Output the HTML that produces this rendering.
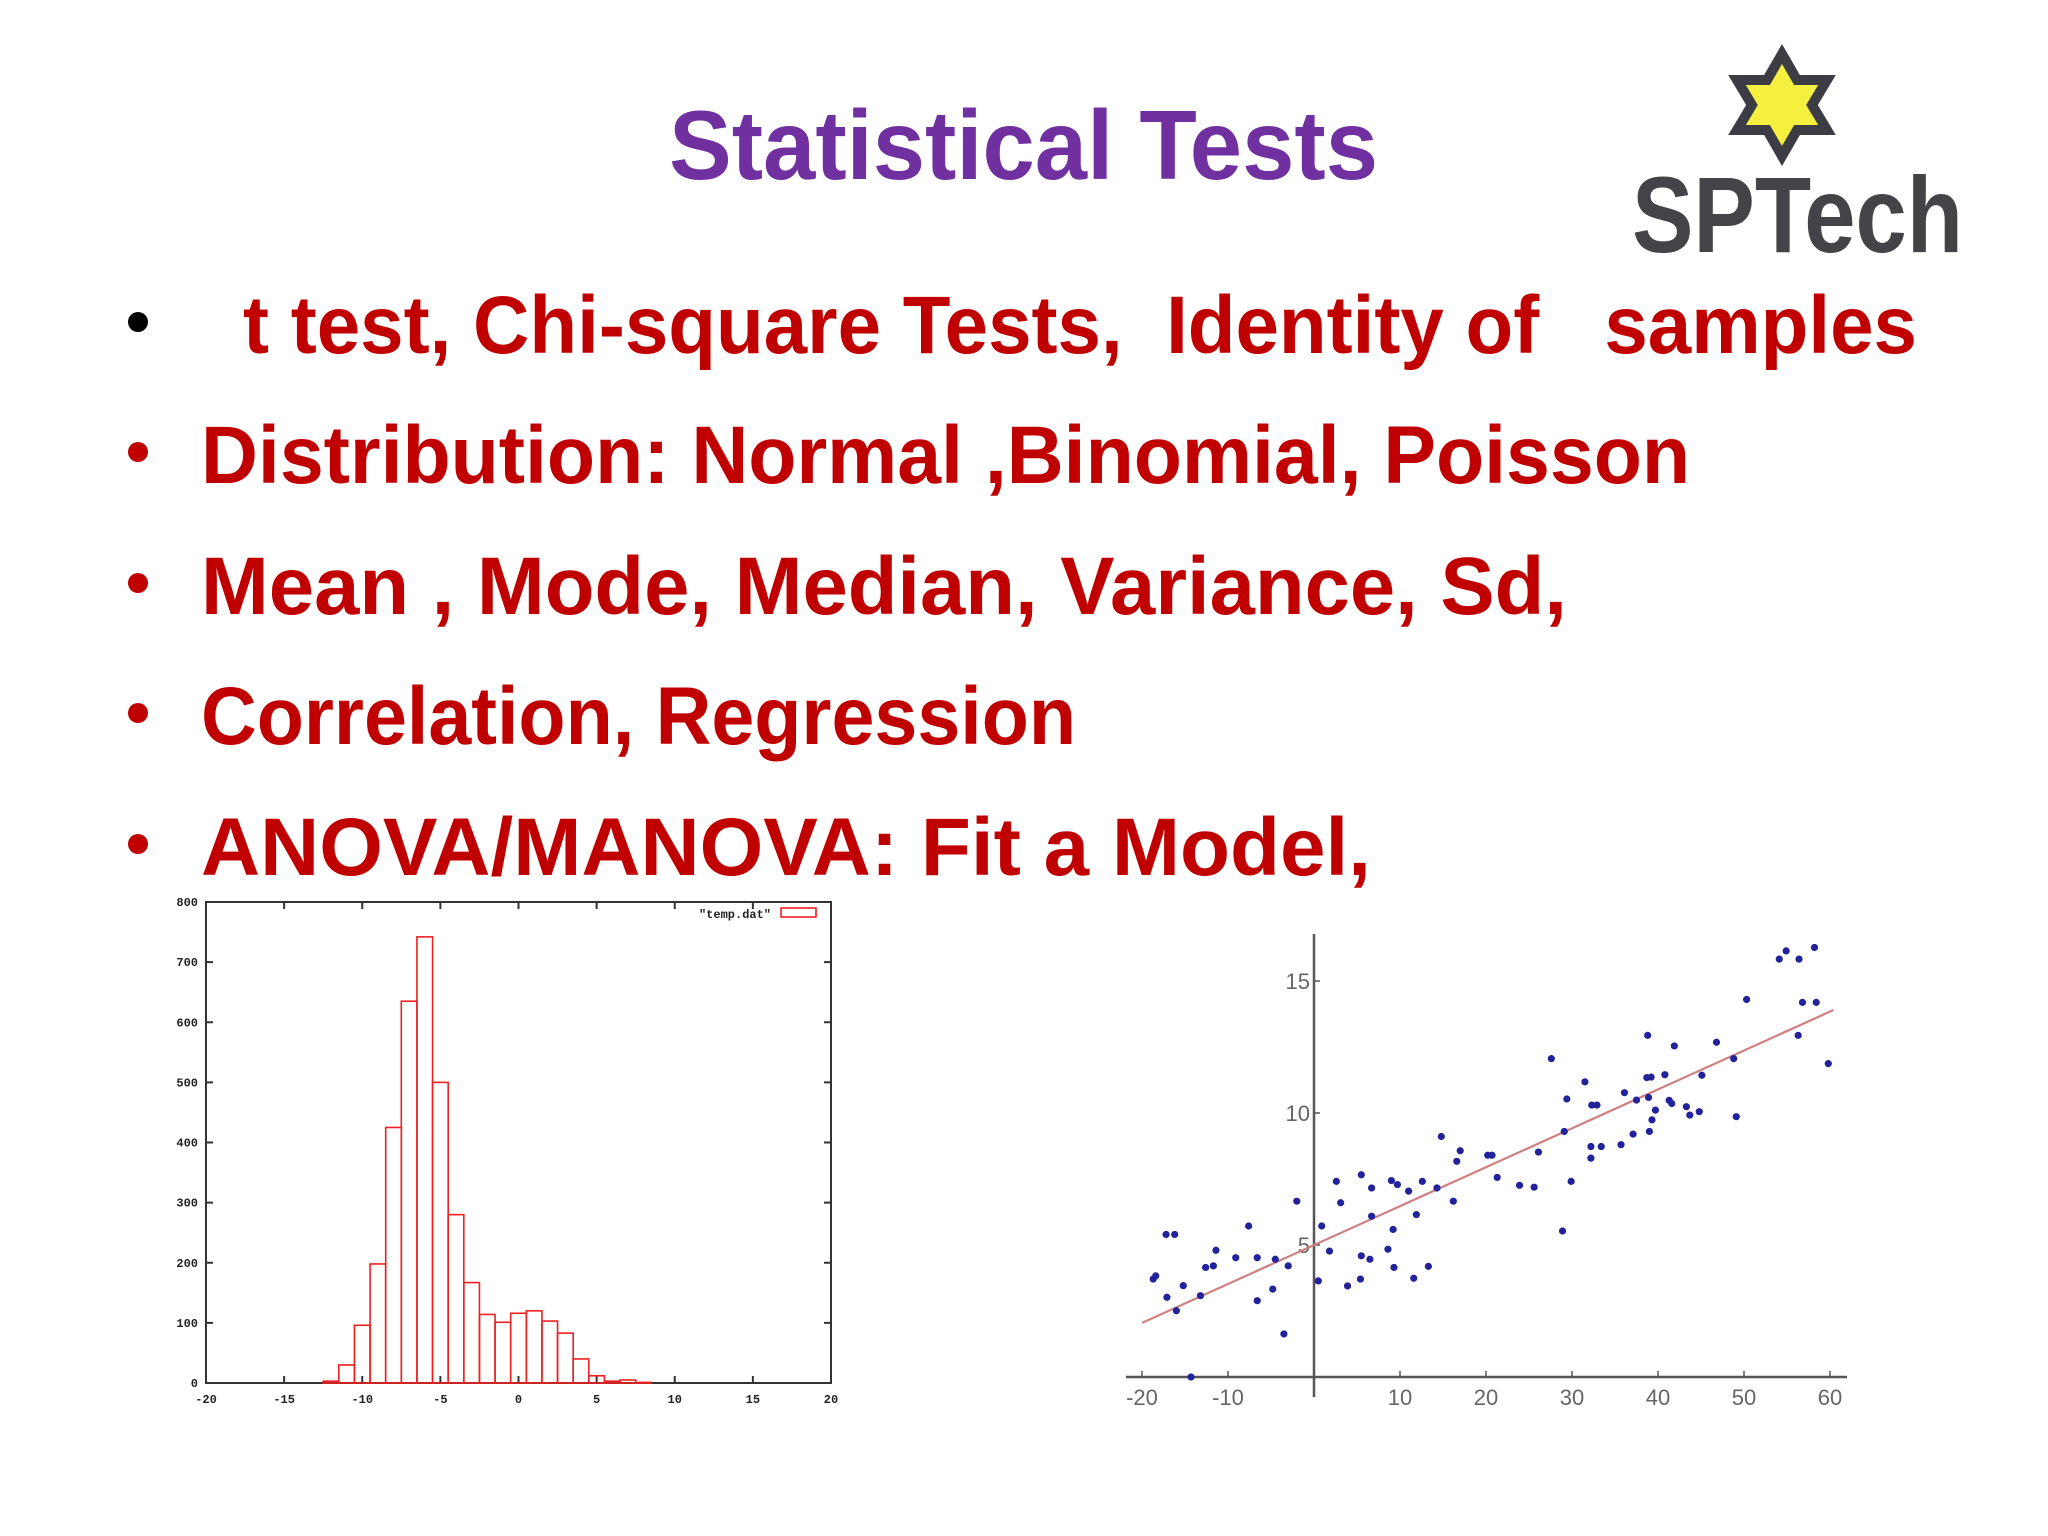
<!DOCTYPE html>
<html><head><meta charset="utf-8"><style>
html,body{margin:0;padding:0;background:#fff;}
svg{display:block;}
</style></head><body>
<svg id="slide" width="2048" height="1536" viewBox="0 0 2048 1536" xmlns="http://www.w3.org/2000/svg">
<rect x="0" y="0" width="2048" height="1536" fill="#ffffff"/>
<text x="669" y="179" textLength="709" lengthAdjust="spacingAndGlyphs" font-family="Liberation Sans, sans-serif" font-weight="bold" font-size="98" fill="#7030a0">Statistical Tests</text>
<g>
<polygon points="1782,54 1797,80 1827,80 1812,105 1827,130 1797,130 1782,156 1767,130 1737,130 1752,105 1737,80 1767,80" fill="#f5f040" stroke="#3c3c44" stroke-width="10" stroke-linejoin="miter"/>
<text x="1632" y="252" textLength="331" lengthAdjust="spacingAndGlyphs" font-family="Liberation Sans, sans-serif" font-weight="bold" font-size="108" fill="#444448">SPTech</text>
</g>
<g font-family="Liberation Sans, sans-serif" font-weight="bold" font-size="82" fill="#c00000">
<circle cx="138" cy="322" r="10" fill="#000"/>
<text x="243" y="353" textLength="1674" lengthAdjust="spacingAndGlyphs" xml:space="preserve">t test, Chi-square Tests,  Identity of   samples</text>
<circle cx="138" cy="452" r="10"/>
<text x="201" y="483" textLength="1489" lengthAdjust="spacingAndGlyphs">Distribution: Normal ,Binomial, Poisson</text>
<circle cx="138" cy="583" r="10"/>
<text x="201" y="614" textLength="1366" lengthAdjust="spacingAndGlyphs">Mean , Mode, Median, Variance, Sd,</text>
<circle cx="138" cy="713" r="10"/>
<text x="201" y="744" textLength="875" lengthAdjust="spacingAndGlyphs">Correlation, Regression</text>
<circle cx="138" cy="844" r="10"/>
<text x="201" y="875" textLength="1170" lengthAdjust="spacingAndGlyphs">ANOVA/MANOVA: Fit a Model,</text>
</g>
<g id="hist"></g>
<g id="scat"></g>
</svg>
<script>
const histBinCenters = [-12,-11,-10,-9,-8,-7,-6,-5,-4,-3,-2,-1,0,1,2,3,4,5,6,7,8];
const histCounts = [3,30,96,198,425,635,742,500,280,167,114,101,116,120,103,83,40,12,3,5,1];
const histXTicks = [-20,-15,-10,-5,0,5,10,15,20];
const histYTicks = [0,100,200,300,400,500,600,700,800];
const scatX = [-18.7,-18.4,-17.2,-16.2,-17.1,-16.0,-15.2,-13.2,-12.6,-11.7,-11.4,-9.1,-7.6,-6.6,-6.6,-4.8,-4.5,-3.5,-3.0,-2.0,0.5,0.9,1.8,3.1,2.6,3.9,5.5,5.4,5.5,6.5,6.7,6.7,8.6,9.2,9.0,9.3,9.7,11.0,11.6,11.9,12.6,13.3,14.3,14.8,16.2,16.6,17.0,20.2,20.7,21.3,23.9,25.6,26.1,27.6,28.9,29.1,29.4,29.9,31.5,32.2,32.2,32.3,32.9,33.4,35.7,36.1,37.1,37.5,38.8,38.7,39.0,39.2,38.9,39.3,39.7,40.8,41.3,41.6,41.9,43.3,43.7,44.8,45.1,46.8,48.8,49.1,50.3,54.1,54.9,56.4,56.3,56.8,58.2,58.4,59.8,-14.3];
const scatY = [3.71,3.83,5.40,5.40,3.02,2.51,3.46,3.08,4.15,4.21,4.80,4.52,5.72,2.89,4.52,3.33,4.46,1.63,4.21,6.66,3.64,5.72,4.77,6.60,7.41,3.45,7.66,3.71,4.59,4.46,7.16,6.09,4.84,5.59,7.44,4.15,7.29,7.04,3.74,6.15,7.41,4.19,7.16,9.11,6.66,8.17,8.57,8.40,8.40,7.56,7.26,7.19,8.52,12.06,5.53,9.30,10.53,7.41,11.18,8.29,8.73,10.30,10.30,8.73,8.80,10.77,9.20,10.49,12.94,11.34,9.30,11.36,10.59,9.74,10.11,11.45,10.48,10.36,12.54,10.24,9.92,10.05,11.43,12.68,12.06,9.86,14.30,15.83,16.14,15.83,12.94,14.19,16.27,14.19,11.87,0];
const fitLine = [[-20,2.05],[60.4,13.9]];
const scatXTicks = [-20,-10,10,20,30,40,50,60];
const scatYTicks = [5,10,15];

const NS='http://www.w3.org/2000/svg';
function mk(parent, tag, attrs, txt){const e=document.createElementNS(NS,tag);for(const k in attrs)e.setAttribute(k,attrs[k]);if(txt!==undefined)e.textContent=txt;parent.appendChild(e);return e;}

// Histogram
const H=document.getElementById('hist');
const hx=v=>206+(v+20)/40*625;
const hy=v=>1383-v/800*481;
let fr=mk(H,'rect',{x:206,y:902,width:625,height:481,fill:'none',stroke:'#333',"stroke-width":2});


histXTicks.forEach(t=>{
  let l=mk(H,'path',{d:`M${hx(t)},1383v-7M${hx(t)},902v7`,stroke:'#333',"stroke-width":2});
  
  
  let tx=mk(H,'text',{x:hx(t),y:1403,"text-anchor":"middle","font-family":"Liberation Mono, monospace","font-weight":"bold","font-size":12,fill:'#222'},String(t));
  
  
});
histYTicks.forEach(t=>{
  let l=mk(H,'path',{d:`M206,${hy(t)}h7M831,${hy(t)}h-7`,stroke:'#333',"stroke-width":2});
  
  
  let tx=mk(H,'text',{x:198,y:hy(t)+4,"text-anchor":"end","font-family":"Liberation Mono, monospace","font-weight":"bold","font-size":12,fill:'#222'},String(t));
  
  
});
histBinCenters.forEach((c,i)=>{
  let b=mk(H,'rect',{x:hx(c-0.5),y:hy(histCounts[i]),width:hx(c+0.5)-hx(c-0.5),height:hy(0)-hy(histCounts[i]),fill:'none',stroke:'#ee2020',"stroke-width":1.6});
  
  
});
let lg=mk(H,'text',{x:771,y:918,"text-anchor":"end","font-family":"Liberation Mono, monospace","font-weight":"bold","font-size":12,fill:'#222'},'"temp.dat"');


let lb=mk(H,'rect',{x:781,y:908,width:35,height:9,fill:'none',stroke:'#ee2020',"stroke-width":1.6});



// Scatter
const S=document.getElementById('scat');
const sx=v=>1314+v*8.6;
const sy=v=>1377-v*26.4;
let xa=mk(S,'line',{x1:1126,y1:1377,x2:1847,y2:1377,stroke:'#555',"stroke-width":2.5});


let ya=mk(S,'line',{x1:1314,y1:934,x2:1314,y2:1397,stroke:'#555',"stroke-width":2.5});


scatXTicks.forEach(t=>{
  let l=mk(S,'line',{x1:sx(t),y1:1371,x2:sx(t),y2:1377,stroke:'#555',"stroke-width":1.5});
  
  
  let tx=mk(S,'text',{x:sx(t),y:1405,"text-anchor":"middle","font-family":"Liberation Sans, sans-serif","font-size":22,fill:'#666'},String(t));
  
  
});
scatYTicks.forEach(t=>{
  let l=mk(S,'line',{x1:1314,y1:sy(t),x2:1320,y2:sy(t),stroke:'#555',"stroke-width":1.5});
  
  
  let tx=mk(S,'text',{x:1310,y:sy(t)+8,"text-anchor":"end","font-family":"Liberation Sans, sans-serif","font-size":22,fill:'#666'},String(t));
  
  
});
let fl=mk(S,'line',{x1:sx(fitLine[0][0]),y1:sy(fitLine[0][1]),x2:sx(fitLine[1][0]),y2:sy(fitLine[1][1]),stroke:'#d08080',"stroke-width":2.2});


scatX.forEach((x,i)=>{
  let p=mk(S,'circle',{cx:sx(x),cy:sy(scatY[i]),r:3.6,fill:'#22229a'});
  
  
});
</script>
</body></html>
